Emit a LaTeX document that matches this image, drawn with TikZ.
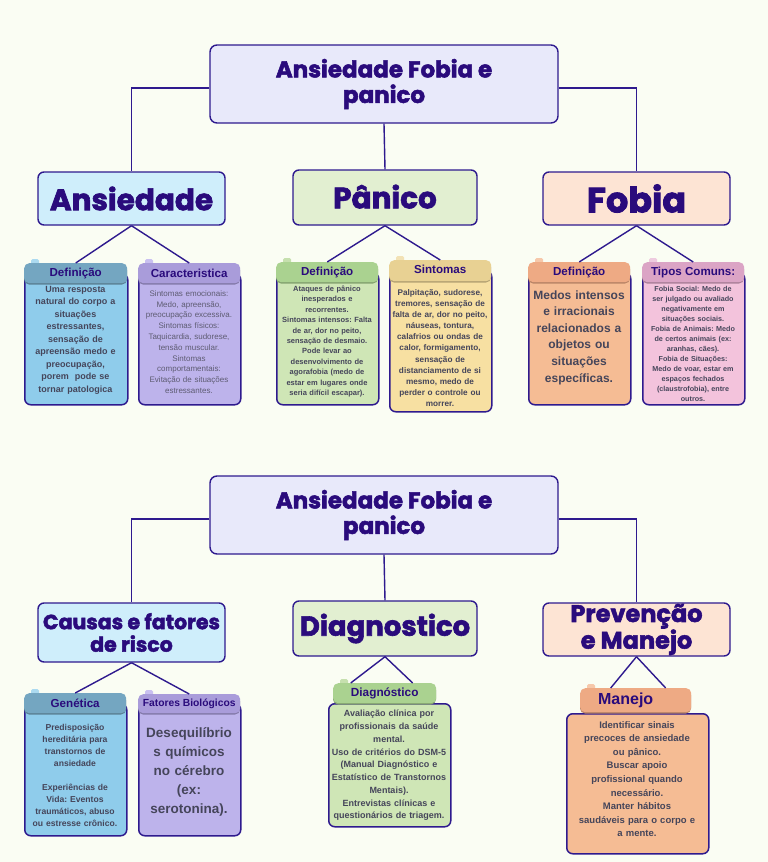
\documentclass[tikz,border=0pt]{standalone}
\usepackage{fontspec}
\setmainfont{Liberation Sans}
\newfontfamily\heavy[FakeBold=2.2]{Poppins}
\frenchspacing
\definecolor{bgc}{HTML}{FAFDF3}
\definecolor{linec}{HTML}{2E1A8E}
\definecolor{titc}{HTML}{2A0B7C}
\definecolor{txtc}{HTML}{45455A}
\definecolor{txtl}{HTML}{5E5C72}
\definecolor{rootf}{HTML}{E8E9FA}
\definecolor{blueL}{HTML}{CFEEFB}
\definecolor{greenL}{HTML}{E2EFD1}
\definecolor{peachL}{HTML}{FDE4D4}
\definecolor{bluh}{HTML}{74A6C1}\definecolor{blub}{HTML}{8FCCEB}\definecolor{blut}{HTML}{ABDAF0}
\definecolor{lavh}{HTML}{A99CDA}\definecolor{lavb}{HTML}{BDB3EB}\definecolor{lavt}{HTML}{C9C0F0}
\definecolor{grnh}{HTML}{AAD290}\definecolor{grnb}{HTML}{CFE6B6}\definecolor{grnt}{HTML}{C6E0AE}
\definecolor{yelh}{HTML}{E8D193}\definecolor{yelb}{HTML}{F7E0A2}\definecolor{yelt}{HTML}{F2E2B5}
\definecolor{orgh}{HTML}{EEAA84}\definecolor{orgb}{HTML}{F5BC94}\definecolor{orgt}{HTML}{F6C8AA}
\definecolor{pnkh}{HTML}{DBA4C5}\definecolor{pnkb}{HTML}{F3C3DC}\definecolor{pnkt}{HTML}{EECBDF}
\tikzset{
  rootbox/.style={draw=linec, line width=1.4pt, fill=rootf, rounded corners=7pt, inner sep=0, align=center, text=titc, font=\heavy\bfseries\fontsize{23}{25.5}\selectfont, minimum width=348pt, minimum height=78pt},
  l2box/.style={draw=linec, line width=1.4pt, rounded corners=6pt, inner sep=0, align=center, text=titc, minimum width=187pt, minimum height=53pt},
  conn/.style={draw=linec, line width=1.4pt},
  cbody/.style={draw=linec, line width=1.5pt, rounded corners=6pt, inner sep=0, anchor=north west},
  chead/.style={rounded corners=5pt, inner sep=0, anchor=north west, text=titc, font=\bfseries\fontsize{11.6}{13}\selectfont},
  ctext/.style={inner sep=0, align=center, text=txtc}
}
\newcommand\cardbody[6]{%
  \node[cbody, fill=#6, minimum width=#4pt, minimum height={(#5-(#3))*1pt}] (#1) at (#2,#3) {};}
\newcommand\cardhead[7]{%
  \fill[#6t, rounded corners=1.5pt] ({#2+7},{#3-4}) rectangle ({#2+15},{#3+4});
  \fill[#6h!78!black, rounded corners=5pt] ({#2},{#3+2}) rectangle ({#2+#4},{#3+#5+1.5});
  \node[chead, fill=#6h, minimum width=#4pt, minimum height=#5pt] (#1) at (#2,#3) {#7};}
\begin{document}
\begin{tikzpicture}[x=1pt,y=-1pt]
\fill[bgc] (0,0) rectangle (768,862);
\useasboundingbox (0,0) rectangle (768,862);

% ---------- top half ----------
\node[rootbox] (r1) at (384,84) {Ansiedade Fobia e\\panico};
\node[l2box, fill=blueL, font=\heavy\bfseries\fontsize{29.5}{31}\selectfont] (ans) at (131.5,198.5) {Ansiedade};
\node[l2box, fill=greenL, minimum width=184pt, minimum height=55pt, font=\heavy\bfseries\fontsize{29.5}{31}\selectfont] (pan) at (385,197.5) {\raisebox{2pt}{Pânico}};
\node[l2box, fill=peachL, font=\heavy\bfseries\fontsize{35}{36}\selectfont] (fob) at (636.5,198.5) {Fobia};

\cardbody{anDefB}{24}{273}{103}{404}{blub}
\cardhead{anDef}{24}{263}{103}{20}{blu}{Definição}
\cardbody{anCarB}{138}{273}{102}{404}{lavb}
\cardhead{anCar}{138}{263}{102}{20}{lav}{\fontsize{11.6}{13}\selectfont Caracteristica}
\cardbody{paDefB}{276}{272}{102}{404}{grnb}
\cardhead{paDef}{276}{262}{102}{20}{grn}{Definição}
\cardbody{paSinB}{389}{270}{102}{411}{yelb}
\cardhead{paSin}{389}{260}{102}{21}{yel}{\raisebox{2pt}{Sintomas}}
\cardbody{foDefB}{528}{272}{102}{404}{orgb}
\cardhead{foDef}{528}{262}{102}{20}{org}{Definição}
\cardbody{foTipB}{642}{272}{102}{404}{pnkb}
\cardhead{foTip}{642}{262}{102}{20}{pnk}{Tipos Comuns:}

\node[ctext, text width=99pt, font=\bfseries\fontsize{9}{12.5}\selectfont] (anDefT) at (75.5,340) {Uma resposta\\natural do corpo a\\situações\\estressantes,\\sensação de\\apreensão medo e\\preocupação,\\porem~ pode se\\tornar patologica};
\node[ctext, text=txtl, text width=99pt, font=\fontsize{8}{10.8}\selectfont] (anCarT) at (189,342) {Sintomas emocionais:\\Medo, apreensão,\\preocupação excessiva.\\Sintomas físicos:\\Taquicardia, sudorese,\\tensão muscular.\\Sintomas\\comportamentais:\\Evitação de situações\\estressantes.};
\node[ctext, text width=99pt, font=\bfseries\fontsize{7.5}{10.4}\selectfont] (paDefT) at (327,341.5) {Ataques de pânico\\inesperados e\\recorrentes.\\Sintomas intensos: Falta\\de ar, dor no peito,\\sensação de desmaio.\\Pode levar ao\\desenvolvimento de\\agorafobia (medo de\\estar em lugares onde\\seria difícil escapar).};
\node[ctext, text width=99pt, font=\bfseries\fontsize{8.2}{11.1}\selectfont] (paSinT) at (440,348) {Palpitação, sudorese,\\tremores, sensação de\\falta de ar, dor no peito,\\náuseas, tontura,\\calafrios ou ondas de\\calor, formigamento,\\sensação de\\distanciamento de si\\mesmo, medo de\\perder o controle ou\\morrer.};
\node[ctext, text width=99pt, font=\bfseries\fontsize{12}{16.6}\selectfont] (foDefT) at (579,337.5) {Medos intensos\\e irracionais\\relacionados a\\objetos ou\\situações\\específicas.};
\node[ctext, text width=99pt, font=\bfseries\fontsize{7.2}{10}\selectfont] (foTipT) at (693,343.5) {Fobia Social: Medo de\\ser julgado ou avaliado\\negativamente em\\situações sociais.\\Fobia de Animais: Medo\\de certos animais (ex:\\aranhas, cães).\\Fobia de Situações:\\Medo de voar, estar em\\espaços fechados\\(claustrofobia), entre\\outros.};

\draw[conn] ([yshift=-4pt]r1.west) -| (ans.north);
\draw[conn] ([yshift=-4pt]r1.east) -| (fob.north);
\draw[conn] (r1.south) -- (pan.north);
\draw[conn] (ans.south) -- (anDef.north);
\draw[conn] (ans.south) -- (anCar.north);
\draw[conn] (pan.south) -- (paDef.north);
\draw[conn] (pan.south) -- (paSin.north);
\draw[conn] (fob.south) -- (foDef.north);
\draw[conn] (fob.south) -- (foTip.north);

% ---------- bottom half ----------
\node[rootbox] (r2) at (384,515) {Ansiedade Fobia e\\panico};
\node[l2box, fill=blueL, minimum height=59pt, font=\heavy\bfseries\fontsize{20.5}{22.5}\selectfont] (cau) at (131.5,632.5) {Causas e fatores\\de risco};
\node[l2box, fill=greenL, minimum width=184pt, minimum height=55pt, font=\heavy\bfseries\fontsize{27.5}{29}\selectfont] (dia) at (385,628.5) {Diagnostico};
\node[l2box, fill=peachL, font=\heavy\bfseries\fontsize{24}{25}\selectfont] (pre) at (636.5,629.5) {Prevenção\\e Manejo};

\cardbody{geDefB}{24}{703}{102}{835}{blub}
\cardhead{geDef}{24}{693}{102}{20}{blu}{Genética}
\cardbody{fbDefB}{138}{703}{102}{835}{lavb}
\cardhead{fbDef}{138}{694}{102}{19}{lav}{\fontsize{10.3}{12}\selectfont Fatores Biológicos}
\cardbody{diDefB}{328}{703}{122}{826}{grnb}
\cardhead{diDef}{333}{683}{103}{20}{grn}{\fontsize{11.8}{13}\selectfont Diagnóstico}
\cardbody{maDefB}{566}{713}{142}{853}{orgb}
\cardhead{maDef}{580}{688}{111}{24}{org}{\hspace*{-20pt}\fontsize{16}{18}\selectfont Manejo}

\node[ctext, text width=99pt, font=\bfseries\fontsize{8.6}{12}\selectfont] (geDefT) at (75,775.5) {Predisposição\\hereditária para\\transtornos de\\ansiedade\\~\\Experiências de\\Vida: Eventos\\traumáticos, abuso\\ou estresse crônico.};
\node[ctext, text width=99pt, font=\bfseries\fontsize{13.5}{18.8}\selectfont] (fbDefT) at (189,772) {Desequilíbrio\\s químicos\\no cérebro\\(ex:\\serotonina).};
\node[ctext, text width=120pt, font=\bfseries\fontsize{9}{12.75}\selectfont] (diDefT) at (389,765.5) {Avaliação clínica por\\profissionais da saúde\\mental.\\Uso de critérios do DSM-5\\(Manual Diagnóstico e\\Estatístico de Transtornos\\Mentais).\\Entrevistas clínicas e\\questionários de triagem.};
\node[ctext, text width=138pt, font=\bfseries\fontsize{9.5}{13.6}\selectfont] (maDefT) at (637,779) {Identificar sinais\\precoces de ansiedade\\ou pânico.\\Buscar apoio\\profissional quando\\necessário.\\Manter hábitos\\saudáveis para o corpo e\\a mente.};

\draw[conn] ([yshift=-4pt]r2.west) -| (cau.north);
\draw[conn] ([yshift=-4pt]r2.east) -| (pre.north);
\draw[conn] (r2.south) -- (dia.north);
\draw[conn] (cau.south) -- (geDef.north);
\draw[conn] (cau.south) -- (fbDef.north);
\draw[conn] (dia.south) -- ([xshift=-34pt]diDef.north);
\draw[conn] (dia.south) -- ([xshift=28pt]diDef.north);
\draw[conn] (pre.south) -- ([xshift=-25pt]maDef.north);
\draw[conn] (pre.south) -- ([xshift=30pt]maDef.north);
\end{tikzpicture}
\end{document}
